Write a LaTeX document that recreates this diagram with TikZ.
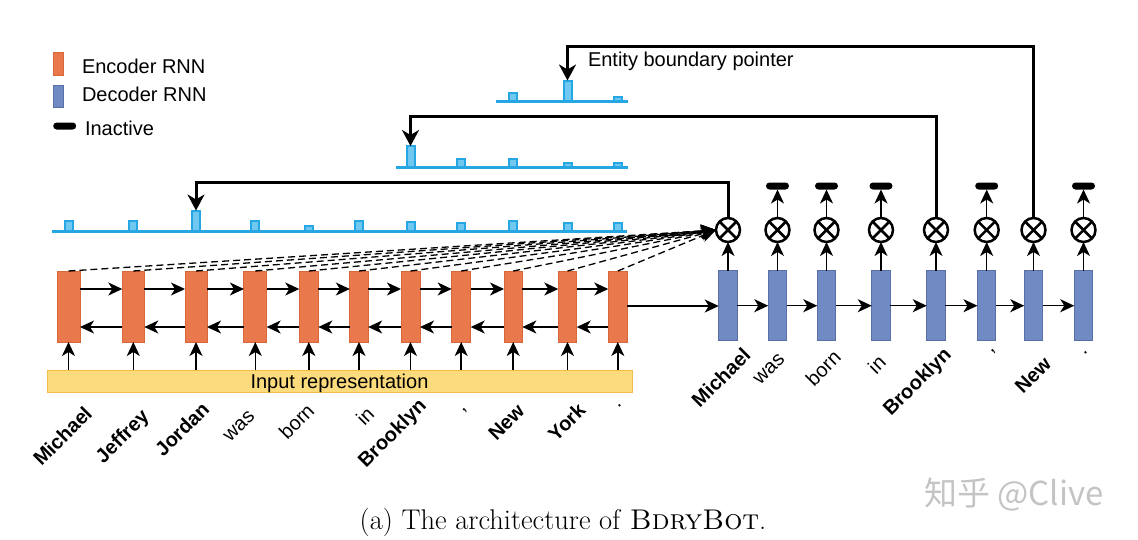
\documentclass[tikz,border=0pt]{standalone}
\usepackage{fontspec}
\newfontfamily\arial{Liberation Sans}
\newfontfamily\cjkfont{Noto Sans CJK SC}
\usetikzlibrary{arrows.meta,calc}

\definecolor{encfill}{RGB}{233,121,76}
\definecolor{encdraw}{RGB}{214,104,60}
\definecolor{decfill}{RGB}{112,139,196}
\definecolor{decdraw}{RGB}{88,112,166}
\definecolor{attfill}{RGB}{112,200,240}
\definecolor{attdraw}{RGB}{38,166,226}
\definecolor{inpfill}{RGB}{252,219,125}
\definecolor{inpdraw}{RGB}{240,190,70}
\definecolor{wmgray}{RGB}{196,196,196}

\tikzset{
  enc/.style={draw=encdraw, fill=encfill, line width=1pt, minimum height=71, inner sep=0, outer sep=0},
  dec/.style={draw=decdraw, fill=decfill, line width=1pt, minimum width=18.5, minimum height=70, inner sep=0, outer sep=0},
  att/.style={draw=attdraw, fill=attfill, line width=2pt, minimum width=8, anchor=south, inner sep=0, outer sep=0},
  attbase/.style={draw=attdraw, line width=3pt},
  arr/.style={-{Stealth[length=14pt,width=13pt,inset=4pt]}, line width=1.5pt},
  attn/.style={-{Stealth[length=15pt,width=13pt,inset=4pt]}, line width=1.3pt, dash pattern=on 7pt off 4pt},
  ptr/.style={-{Stealth[length=16pt,width=17pt,inset=5pt]}, line width=3pt},
  otimes/.style={circle, draw, line width=2.5pt, minimum size=24, inner sep=0, outer sep=0},
  inact/.style={fill=black, rounded corners=3.5pt, minimum width=23, minimum height=7, inner sep=0, outer sep=0},
  lbl/.style={font=\arial\fontsize{20}{24}\selectfont, inner sep=0, outer sep=0},
  blbl/.style={font=\arial\bfseries\fontsize{20}{24}\selectfont, inner sep=0, outer sep=0},
  wl/.style={lbl, rotate=45, anchor=base east},
  wb/.style={blbl, rotate=45, anchor=base east},
  wp/.style={lbl, rotate=45, anchor=center},
}

\begin{document}
\begin{tikzpicture}[x=1pt,y=-1pt]
\useasboundingbox (0,0) rectangle (1138,539);

% ---------- legend ----------
\node[enc, minimum width=10, minimum height=23] (legE) at (58.3,63.5) {};
\node[dec, minimum width=10, minimum height=22] (legD) at (58.3,96) {};
\node[inact] (legI) at (64.7,126) {};
\node[lbl, anchor=base west] (tE) at (82,73.3) {Encoder RNN};
\node[lbl, anchor=base west] (tD) at (82,101.7) {Decoder RNN};
\node[lbl, anchor=base west] (tI) at (85,135) {Inactive};

% ---------- encoder ----------
\foreach \i/\x/\w in {1/68.5/23,2/133.3/22,3/196/22,4/255.3/22.7,5/308.8/19,6/359/18.3,7/410.5/19,8/461.2/19,9/513.2/18.3,10/567.5/18.4,11/617.8/19}{
  \node[enc, minimum width=\w] (e\i) at (\x,306.5) {};
}
\foreach \i [evaluate=\i as \j using int(\i+1)] in {1,...,10}{
  \draw[arr] (e\i.east |- 0,289) -- (e\j.west |- 0,289);
  \draw[arr] (e\j.west |- 0,327) -- (e\i.east |- 0,327);
}

% input representation
\node[draw=inpdraw, fill=inpfill, line width=1pt, minimum width=585, minimum height=22, inner sep=0,
      font=\arial\fontsize{20}{24}\selectfont, text depth=0pt] (inp) at (339.5,381) {Input representation};
\foreach \i in {1,...,11}{
  \draw[arr] (e\i.south |- inp.north) -- (e\i.south);
}

% ---------- decoder ----------
\foreach \i/\x in {1/728,2/777.5,3/826.5,4/881,5/936,6/986.7,7/1033.5,8/1083.5}{
  \node[dec] (d\i) at (\x,305.7) {};
  \node[otimes] (c\i) at (\x,230) {};
  \draw[line width=2.5pt] (c\i.north west) -- (c\i.south east) (c\i.north east) -- (c\i.south west);
  \draw[arr] (d\i.north) -- (c\i.south);
}
\foreach \i [evaluate=\i as \j using int(\i+1)] in {1,...,7}{
  \draw[arr] (d\i.east) -- (d\j.west);
}
\draw[arr] (e11.east |- 0,306) -- (d1.west |- 0,306);

% inactive outputs
\foreach \i in {2,3,4,6,8}{
  \node[inact] (b\i) at (c\i.north |- 0,186) {};
  \draw[arr] (c\i.north) -- (b\i.south);
}

% ---------- attention rows ----------
\coordinate (r1s) at (52,231.5);   \coordinate (r1e) at (627,231.5);
\coordinate (r2s) at (396,167.5);  \coordinate (r2e) at (628,167.5);
\coordinate (r3s) at (496,101.5);  \coordinate (r3e) at (628,101.5);
\foreach \i/\h in {1/11,2/11,3/21,4/11,5/6,6/11,7/9.5,8/8.5,9/11,10/9,11/9}{
  \node[att, minimum height=\h] (r1b\i) at (e\i.north |- r1s) {};
}
\foreach \i/\h in {7/21.5,8/8.5,9/8.5,10/5,11/5}{
  \node[att, minimum height=\h] (r2b\i) at (e\i.north |- r2s) {};
}
\foreach \i/\h in {9/8.5,10/21,11/5}{
  \node[att, minimum height=\h] (r3b\i) at (e\i.north |- r3s) {};
}
\draw[attbase] (r1s) -- (r1e);
\draw[attbase] (r2s) -- (r2e);
\draw[attbase] (r3s) -- (r3e);

% dashed attention connectors
\foreach \i in {1,...,11}{
  \draw[attn] (e\i.north) -- (c1.west);
}

% pointers
\draw[ptr] (c1.north) -- (c1.north |- 0,182) -| (r1b3.north);
\draw[ptr] (c5.north) -- (c5.north |- 0,116) -| (r2b7.north);
\draw[ptr] (c7.north) -- (c7.north |- 0,46) -| (r3b10.north);
\node[lbl, anchor=base west] (ebp) at (588,66) {Entity boundary pointer};

% ---------- word labels ----------
\node[wb] (w1) at (93.4,415.1) {Michael};
\node[wb] (w2) at (150,418) {Jeffrey};
\node[wb] (w3) at (210.6,410.6) {Jordan};
\node[wl] (w4) at (255.6,417.3) {was};
\node[wl] (w5) at (315.6,412.3) {born};
\node[wl] (w6) at (375.6,415.6) {in};
\node[wb] (w7) at (427.3,407.3) {Brooklyn};
\node[wp] (w8) at (465,411) {,};
\node[wb] (w9) at (525.6,412.3) {New};
\node[wb] (w10) at (586.8,411.8) {York};
\node[wp] (w11) at (619.5,406) {.};

\node[wb] (o1) at (751.8,356.8) {Michael};
\node[wl] (o2) at (785.6,360.6) {was};
\node[wl] (o3) at (842.3,359) {born};
\node[wl] (o4) at (887.3,364) {in};
\node[wb] (o5) at (952.3,355.6) {Brooklyn};
\node[wp] (o6) at (993.5,352) {,};
\node[wb] (o7) at (1052.3,365.6) {New};
\node[wp] (o8) at (1085.5,353) {.};

% ---------- caption & watermark ----------
\node[anchor=base, inner sep=0, font=\fontsize{28.5}{34}\selectfont] (cap) at (563,529) {(a) The architecture of \textsc{BdryBot}.};
\node[anchor=west, inner sep=0, text=wmgray, font=\cjkfont\fontsize{33}{38}\selectfont] (wm) at (924,494) {知乎 @Clive};
\end{tikzpicture}
\end{document}
